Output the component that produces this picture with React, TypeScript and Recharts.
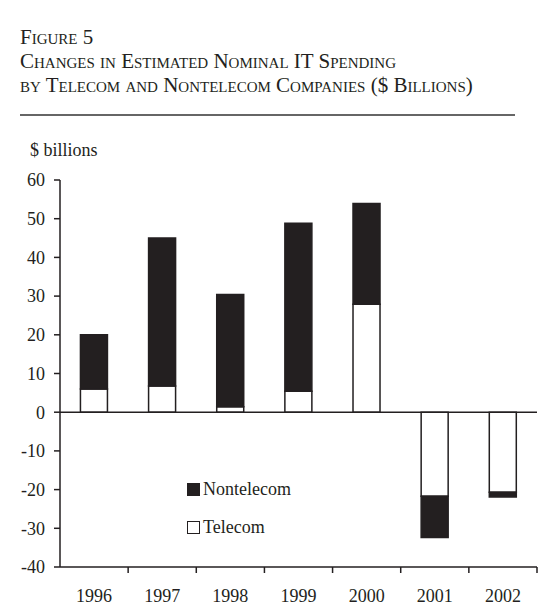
import { BarChart, Bar, XAxis, YAxis, ReferenceLine, Legend } from "recharts"

const years = ["1996", "1997", "1998", "1999", "2000", "2001", "2002"]
const telecom = [6, 6.8, 1.4, 5.4, 27.9, -21.7, -20.7]
const nontelecom = [14, 38.2, 29, 43.4, 26, -10.7, -1.2]
const yTicks = [-40, -30, -20, -10, 0, 10, 20, 30, 40, 50, 60]
const legendOrder = ["Nontelecom", "Telecom"]

const INK = "#231f20"
const FONT = "'Liberation Serif', 'Times New Roman', serif"

const data = years.map((year, i) => ({
  year,
  telecom: telecom[i],
  nontelecom: nontelecom[i],
}))

function YearTick(props: any) {
  const { x, y, payload } = props
  const off = payload.offset ?? 0
  return (
    <g>
      <line x1={x + off} y1={y} x2={x + off} y2={y + 6} stroke={INK} strokeWidth={1.5} />
      <text x={x} y={y + 35} textAnchor="middle" fill={INK} fontSize={18} fontFamily={FONT}>
        {payload.value}
      </text>
    </g>
  )
}

function LegendBox({ payload }: any) {
  const items = [...(payload || [])].sort(
    (a: any, b: any) => legendOrder.indexOf(a.value) - legendOrder.indexOf(b.value)
  )
  return (
    <div style={{ fontFamily: FONT, fontSize: 18, color: INK }}>
      {items.map((it: any) => (
        <div key={it.value} style={{ display: "flex", alignItems: "center", height: 38 }}>
          <span
            style={{
              display: "inline-block",
              width: 11,
              height: 11,
              background: it.color,
              border: `1.5px solid ${INK}`,
              marginRight: 3,
            }}
          />
          {it.value}
        </div>
      ))}
    </div>
  )
}

export default function App() {
  return (
    <div style={{ position: "absolute", left: 0, top: 0, width: 553, height: 614, background: "#fff" }}>
      <div
        style={{
          position: "absolute",
          left: 20,
          top: 25,
          fontFamily: FONT,
          fontSize: 21,
          lineHeight: "24px",
          fontVariant: "small-caps",
          color: INK,
        }}
      >
        <div>Figure 5</div>
        <div>Changes in Estimated Nominal IT Spending</div>
        <div>by Telecom and Nontelecom Companies ($ Billions)</div>
      </div>
      <div style={{ position: "absolute", left: 20, top: 114, width: 495, height: 1.5, background: "#666" }} />
      <div
        style={{ position: "absolute", left: 30, top: 140, fontFamily: FONT, fontSize: 18, color: INK }}
      >
        $ billions
      </div>
      <div style={{ position: "absolute", left: 0, top: 0 }}>
        <BarChart
          width={553}
          height={614}
          data={data}
          margin={{ top: 180, right: 16, left: 0, bottom: 7 }}
          barCategoryGap="30%"
          stackOffset="sign"
        >
          <XAxis
            dataKey="year"
            height={40}
            tickSize={0}
            tickMargin={0}
            tickLine={false}
            axisLine={{ stroke: INK, strokeWidth: 1.5 }}
            tick={<YearTick />}
            interval={0}
          />
          <YAxis
            width={60}
            domain={[-40, 60]}
            ticks={yTicks}
            interval={0}
            tickSize={6}
            tickMargin={9}
            axisLine={{ stroke: INK, strokeWidth: 1.5 }}
            tickLine={{ stroke: INK, strokeWidth: 1.5 }}
            tick={{ fill: INK, fontSize: 18, fontFamily: FONT }}
          />
          <ReferenceLine y={0} stroke={INK} strokeWidth={1.5} />
          <Bar
            dataKey="telecom"
            name="Telecom"
            stackId="a"
            fill="#ffffff"
            stroke={INK}
            strokeWidth={1.5}
            isAnimationActive={false}
          />
          <Bar
            dataKey="nontelecom"
            name="Nontelecom"
            stackId="a"
            fill={INK}
            stroke={INK}
            strokeWidth={1.5}
            isAnimationActive={false}
          />
          <Legend
            content={<LegendBox />}
            layout="horizontal"
            verticalAlign="middle"
            align="center"
            wrapperStyle={{ position: "absolute", left: 187, top: 470, width: 150 }}
          />
        </BarChart>
      </div>
    </div>
  )
}
